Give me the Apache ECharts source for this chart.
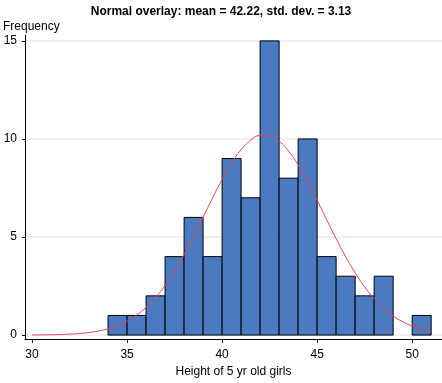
<!DOCTYPE html>
<html>
<head>
<meta charset="utf-8">
<script src="https://cdn.jsdelivr.net/npm/echarts@6/dist/echarts.min.js"></script>
<style>html,body{margin:0;padding:0;background:#fff;}#c{width:442px;height:383px;}</style>
</head>
<body>
<div id="c"></div>
<script>
// Histogram bins (start of each 1-unit bin) and frequencies
var binStarts = [34,35,36,37,38,39,40,41,42,43,44,45,46,47,48,49,50];
var binWidth = 1;
var counts    = [1,1,2,4,6,4,9,7,15,8,10,4,3,2,3,0,1];
// Normal overlay curve
var curveX = [30,30.5,31,31.5,32,32.5,33,33.5,34,34.5,35,35.5,36,36.5,37,37.5,38,38.5,39,39.5,40,40.5,41,41.5,42,42.5,43,43.5,44,44.5,45,45.5,46,46.5,47,47.5,48,48.5,49,49.5,50,50.5,51];
var curveY = [0.005,0.009,0.017,0.029,0.049,0.082,0.133,0.210,0.324,0.487,0.713,1.017,1.415,1.919,2.538,3.271,4.109,5.032,6.007,6.991,7.929,8.768,9.452,9.931,10.172,10.156,9.885,9.379,8.675,7.821,6.874,5.889,4.918,4.003,3.177,2.458,1.854,1.362,0.976,0.682,0.464,0.308,0.199];
var xTicks = [30,35,40,45,50];
var yTicks = [0,5,10,15];
var title = 'Normal overlay: mean = 42.22, std. dev. = 3.13';

var font = 'Liberation Sans, Arial, sans-serif';
var xMin = 29.63, xMax = 51.57;
var chart = echarts.init(document.getElementById('c'));
var barData = binStarts.map(function(s,i){ return [s, s+binWidth, counts[i]]; }).filter(function(d){return d[2] > 0;});
var curveData = curveX.map(function(x,i){ return [x, curveY[i]]; });

chart.setOption({
  animation: false,
  title: {
    text: title, left: 'center', top: 1,
    textStyle: {fontFamily: font, fontSize: 12, fontWeight: 'bold', color: '#000'}
  },
  grid: {left: 23, right: 0, top: 35, bottom: 38, containLabel: false},
  xAxis: {
    type: 'value', min: xMin, max: xMax,
    name: 'Height of 5 yr old girls', nameLocation: 'middle', nameGap: 27,
    nameTextStyle: {fontFamily: font, fontSize: 12, color: '#000'},
    axisLine: {show: true, onZero: false, lineStyle: {color: '#000', width: 1}},
    axisTick: {show: true, length: 4, customValues: xTicks, lineStyle: {color: '#000'}},
    axisLabel: {customValues: xTicks, fontFamily: font, fontSize: 12, color: '#000', margin: 10},
    splitLine: {show: false}
  },
  yAxis: {
    type: 'value', min: -0.2, max: 15.3,
    name: 'Frequency', nameLocation: 'end', nameGap: 2,
    nameTextStyle: {fontFamily: font, fontSize: 12, color: '#000', align: 'left', padding: [0,0,0,-22]},
    axisLine: {show: true, lineStyle: {color: '#000', width: 1}},
    axisTick: {show: true, length: 3, customValues: yTicks, lineStyle: {color: '#000'}},
    axisLabel: {customValues: yTicks, fontFamily: font, fontSize: 12, color: '#000', margin: 8},
    splitLine: {show: false}
  },
  series: [
    {
      type: 'custom', z: 0, silent: true,
      renderItem: function(params, api){
        var a = api.coord([xMin, api.value(0)]);
        var b = api.coord([xMax, api.value(0)]);
        return {
          type: 'line',
          shape: {x1: a[0]+1, y1: a[1], x2: b[0], y2: b[1]},
          style: {stroke: '#e3e3e3', lineWidth: 1}
        };
      },
      encode: {y: 0},
      data: yTicks.map(function(v){ return [v]; })
    },
    {
      type: 'custom', z: 2,
      renderItem: function(params, api){
        var p0 = api.coord([api.value(0), api.value(2)]);
        var p1 = api.coord([api.value(1), 0]);
        return {
          type: 'rect',
          shape: {x: p0[0], y: p0[1], width: p1[0]-p0[0], height: p1[1]-p0[1]},
          style: {fill: '#4a7ac0', stroke: '#000', lineWidth: 1}
        };
      },
      encode: {x: [0,1], y: 2},
      data: barData
    },
    {
      type: 'line', z: 3, data: curveData, smooth: true, showSymbol: false,
      lineStyle: {color: '#e8404c', width: 1}
    }
  ]
});
</script>
</body>
</html>
